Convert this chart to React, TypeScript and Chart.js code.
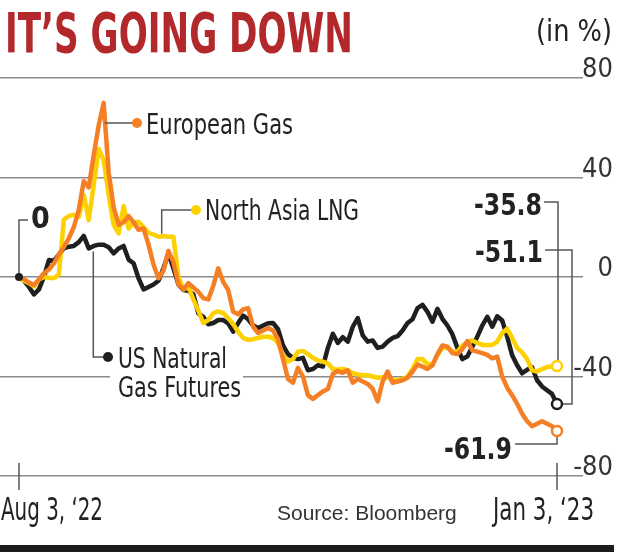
import React, { useEffect, useRef } from "react";
import { Chart, registerables } from "chart.js";

Chart.register(...registerables);

// ---- data (percent change since Aug 3, 2022; one value per trading day) ----
const xTickLabels = ["Aug 3, \u201822", "Jan 3, \u201823"];
const yTickValues = [80, 40, 0, -40, -80];

const europeanGas = [
  0, -0.8, -2.2, -3.2, -1, 1.5, 3, 5.5, 9, 12,
  15.5, 20, 27, 38.5, 36, 49, 61, 70, 42, 28,
  21, 22, 24.5, 22, 19, 19.5, 13, 5, -0.5, 2.5,
  10.5, 6, -3, -5, -2.5, -4.2, -6, -8.5, -9, -3.5,
  3.5, -2, -5.2, -14, -15, -13, -12.5, -20, -22.5, -21.5,
  -20.5, -21.5, -25, -33, -41, -42.5, -36.5, -40, -47.5, -49,
  -47.5, -46, -45, -39, -37.8, -38.5, -37.5, -42.5, -41, -42,
  -43, -45, -50, -42, -38, -42.5, -42, -41.5, -40.5, -38,
  -35.2, -36, -37, -35.5, -31, -27.5, -28, -30.6, -31, -29,
  -25.8, -29.5, -30, -30.6, -31.3, -32.7, -32, -40, -44.5, -47.5,
  -51, -55, -58, -60, -59, -58, -59, -60, -61.9,
];

const northAsiaLng = [
  -0.5, -1.5, -2.5, -3.8, -1, 0, -0.3, -0.5, 1, 23,
  24.5, 25, 24.2, 33, 22.9, 37, 51.5, 47, 33, 21,
  17.5, 28.5, 19.5, 22, 22.2, 20, 17.8, 17, 16.2, 16.5,
  16.2, 16.2, 0, -5, -4, -9, -13.5, -18.5, -17.3, -14.5,
  -13.8, -14.5, -16.5, -19, -22, -24.5, -25.3, -25, -24.5, -24,
  -24, -24.5, -26.5, -31.5, -34, -33, -30, -29.7, -31, -32.5,
  -33.5, -34, -34.7, -37, -37.3, -37, -37.5, -38.7, -39.2, -39.4,
  -39.5, -40, -40.5, -40.3, -40.3, -41.4, -41.4, -41, -40, -37,
  -33, -33, -35, -35, -31.5, -28.3, -28.5, -29.8, -30, -27.5,
  -26.3, -25.5, -26.5, -27.3, -27.3, -27.3, -26, -22.5, -20.8, -24.5,
  -28.5, -30.3, -33, -37.5, -38, -37, -36.2, -36, -35.8,
];

const usNaturalGas = [
  0, -1.5, -4, -7, -5, 0, 6.8, 6.5, 9, 11.5,
  12.2, 12.5, 14, 16.5, 11.5, 12.5, 13, 13, 12, 9.5,
  11.5, 12.5, 7, 5.5, -0.5, -5, -4, -3, -1.5, 3.5,
  9.5, 3.5, -3, -5.2, -5.5, -7, -14.6, -16, -19, -18.5,
  -17.3, -17.3, -18.6, -22, -18.5, -15.5, -17, -19.5, -20.5, -19.5,
  -18.6, -18.5, -21, -27.5, -31, -32.5, -33, -32.5, -37.5, -37,
  -35.5, -36, -28.5, -22.8, -26.5, -24.2, -26, -20, -16.5, -23.5,
  -26, -25.5, -28.5, -28, -26, -24.5, -23.8, -21.5, -18.5, -17,
  -12.5, -11.2, -14, -18, -12.8, -16.8, -19.5, -23, -28.5, -33,
  -32, -28, -24, -19.5, -16, -20, -15.8, -17.5, -24, -31.5,
  -35.5, -38.7, -37.3, -36.3, -41.5, -44, -45.5, -47, -51.1,
];

const seriesNames = ["European Gas", "North Asia LNG", "US Natural", "Gas Futures"];
const endLabels = ["-35.8", "-51.1", "-61.9"];
const startLabel = "0";

// ---- styles ----
const ORANGE = "#f47f24";
const YELLOW = "#fdd000";
const BLACK = "#1f1f1f";
const GRID = "#8a8a8a";
const LEADER = "#555555";
const RED = "#b3282b";
const NARROW = '"Liberation Sans Narrow", "Arial Narrow", "DejaVu Sans Condensed", "Roboto Condensed", sans-serif';
const SANS = '"Liberation Sans", Arial, sans-serif';

const W = 620;
const H = 553;
const AREA_RIGHT_PAD = 37;
const X_FIRST_PX = 19;
const X_LAST_PX = 557;

function txt(
  ctx: CanvasRenderingContext2D,
  s: string,
  x: number,
  y: number,
  font: string,
  color: string,
  align: CanvasTextAlign = "left",
  maxW?: number
) {
  ctx.save();
  ctx.font = font;
  ctx.fillStyle = color;
  ctx.textAlign = align;
  ctx.textBaseline = "alphabetic";
  if (maxW) ctx.fillText(s, x, y, maxW);
  else ctx.fillText(s, x, y);
  ctx.restore();
}

function poly(ctx: CanvasRenderingContext2D, pts: number[][]) {
  ctx.save();
  ctx.strokeStyle = LEADER;
  ctx.lineWidth = 1.5;
  ctx.beginPath();
  pts.forEach((p, i) => (i === 0 ? ctx.moveTo(p[0], p[1]) : ctx.lineTo(p[0], p[1])));
  ctx.stroke();
  ctx.restore();
}

function dot(ctx: CanvasRenderingContext2D, x: number, y: number, r: number, color: string) {
  ctx.save();
  ctx.fillStyle = color;
  ctx.beginPath();
  ctx.arc(x, y, r, 0, Math.PI * 2);
  ctx.fill();
  ctx.restore();
}

const decorPlugin = {
  id: "decor",
  beforeDatasetsDraw(chart: any) {
    const ctx = chart.ctx as CanvasRenderingContext2D;
    // white gap in the -40 gridline behind the US label
    ctx.save();
    ctx.fillStyle = "#ffffff";
    ctx.fillRect(110, 368, 133, 14);
    ctx.restore();
  },
  afterDraw(chart: any) {
    const ctx = chart.ctx as CanvasRenderingContext2D;
    const xs = chart.scales.x;
    const ys = chart.scales.y;
    const last = europeanGas.length - 1;
    const xp = (i: number) => xs.getPixelForValue(i);
    const yp = (v: number) => ys.getPixelForValue(v);

    // title & unit
    txt(ctx, "IT\u2019S GOING DOWN", 5, 52, `bold 56px ${NARROW}`, RED, "left", 348);
    txt(ctx, "(in %)", 612, 41, `30px ${NARROW}`, "#222", "right", 76);

    // y tick labels (sit on their gridlines at the right)
    yTickValues.forEach((v) => {
      txt(ctx, String(v), 613, yp(v) - 1, `27px ${NARROW}`, "#333", "right", 40);
    });

    // x ticks and labels
    [0, last].forEach((i) => {
      poly(ctx, [[xp(i), 463], [xp(i), 490]]);
    });
    txt(ctx, xTickLabels[0], 1, 520, `32px ${NARROW}`, "#222", "left", 102);
    txt(ctx, xTickLabels[1], 594, 520, `32px ${NARROW}`, "#222", "right", 101);
    txt(ctx, "Source: Bloomberg", 277, 520, `21px ${SANS}`, "#333", "left", 193);

    // bottom rule
    ctx.save();
    ctx.fillStyle = "#1c1c1c";
    ctx.fillRect(0, 545, 614, 7);
    ctx.restore();

    // start "0"
    poly(ctx, [[xp(0), yp(0)], [xp(0), 220], [xp(0) + 9, 220]]);
    dot(ctx, xp(0), yp(0), 4, BLACK);
    txt(ctx, startLabel, 31, 228, `bold 30px ${NARROW}`, "#222", "left");

    // European Gas
    poly(ctx, [[xp(17) + 1, 123], [137, 123]]);
    dot(ctx, 137, 123, 5, ORANGE);
    txt(ctx, seriesNames[0], 146, 134, `28px ${NARROW}`, "#222", "left", 147);

    // North Asia LNG
    poly(ctx, [[161.7, yp(16.2) - 3], [161.7, 210], [196, 210]]);
    dot(ctx, 196, 210, 5, YELLOW);
    txt(ctx, seriesNames[1], 205, 220, `28px ${NARROW}`, "#222", "left", 154);

    // US Natural Gas Futures
    poly(ctx, [[93.3, yp(11.5) + 3], [93.3, 357], [108, 357]]);
    dot(ctx, 108, 357, 5, BLACK);
    txt(ctx, seriesNames[2], 118, 368, `28px ${NARROW}`, "#222", "left", 109);
    txt(ctx, seriesNames[3], 118, 397, `28px ${NARROW}`, "#222", "left", 123);

    // end labels
    const xe = xp(last);
    txt(ctx, endLabels[0], 542, 215, `bold 30px ${NARROW}`, "#222", "right", 68);
    poly(ctx, [[544, 202], [xe + 1, 202], [xe + 1, yp(northAsiaLng[last]) - 6]]);
    txt(ctx, endLabels[1], 543, 262, `bold 30px ${NARROW}`, "#222", "right", 68);
    poly(ctx, [[545, 250], [572, 250], [572, yp(usNaturalGas[last])], [xe + 6, yp(usNaturalGas[last])]]);
    txt(ctx, endLabels[2], 512, 459, `bold 30px ${NARROW}`, "#222", "right", 68);
    poly(ctx, [[515, 444], [xe, 444], [xe, yp(europeanGas[last]) + 6]]);
  },
};

export default function App() {
  const ref = useRef<HTMLCanvasElement | null>(null);

  useEffect(() => {
    const canvas = ref.current;
    if (!canvas) return;
    const last = europeanGas.length - 1;
    const areaW = W - AREA_RIGHT_PAD;
    const pxPerIdx = (X_LAST_PX - X_FIRST_PX) / last;
    const xMin = -X_FIRST_PX / pxPerIdx;
    const xMax = last + (areaW - X_LAST_PX) / pxPerIdx;

    const mk = (arr: number[]) => arr.map((v, i) => ({ x: i, y: v }));
    const endPoint = (color: string) => ({
      pointRadius: (c: any) => (c.dataIndex === last ? 5 : 0),
      pointHoverRadius: 0,
      pointBackgroundColor: "#ffffff",
      pointBorderColor: color,
      pointBorderWidth: 2.5,
    });

    const chart = new Chart(canvas, {
      type: "line",
      data: {
        datasets: [
          { label: "European Gas", data: mk(europeanGas), borderColor: ORANGE, order: 1, ...endPoint(ORANGE) },
          { label: "North Asia LNG", data: mk(northAsiaLng), borderColor: YELLOW, order: 2, ...endPoint(YELLOW) },
          { label: "US Natural Gas Futures", data: mk(usNaturalGas), borderColor: BLACK, order: 3, ...endPoint(BLACK) },
        ] as any,
      },
      options: {
        animation: false,
        responsive: false,
        maintainAspectRatio: false,
        devicePixelRatio: 1,
        layout: { autoPadding: false, padding: { top: 78, bottom: 77, left: 0, right: AREA_RIGHT_PAD } },
        plugins: { legend: { display: false }, tooltip: { enabled: false }, title: { display: false } },
        elements: {
          line: { borderWidth: 4.5, tension: 0, borderJoinStyle: "round", borderCapStyle: "round", fill: false },
        },
        scales: {
          x: { type: "linear", min: xMin, max: xMax, display: false },
          y: {
            type: "linear",
            position: "right",
            min: -80,
            max: 80,
            display: true,
            afterBuildTicks: (s: any) => {
              s.ticks = yTickValues.map((v) => ({ value: v }));
            },
            afterFit: (s: any) => {
              s.width = 0;
            },
            ticks: { display: false, padding: 0 },
            grid: { color: GRID, lineWidth: 1.5, drawTicks: false },
            border: { display: false },
          },
        },
      } as any,
      plugins: [decorPlugin],
    });
    return () => chart.destroy();
  }, []);

  return (
    <div style={{ position: "absolute", left: 0, top: 0, width: W, height: H, background: "#fff" }}>
      <canvas ref={ref} width={W} height={H} style={{ display: "block", width: W, height: H }} />
    </div>
  );
}
